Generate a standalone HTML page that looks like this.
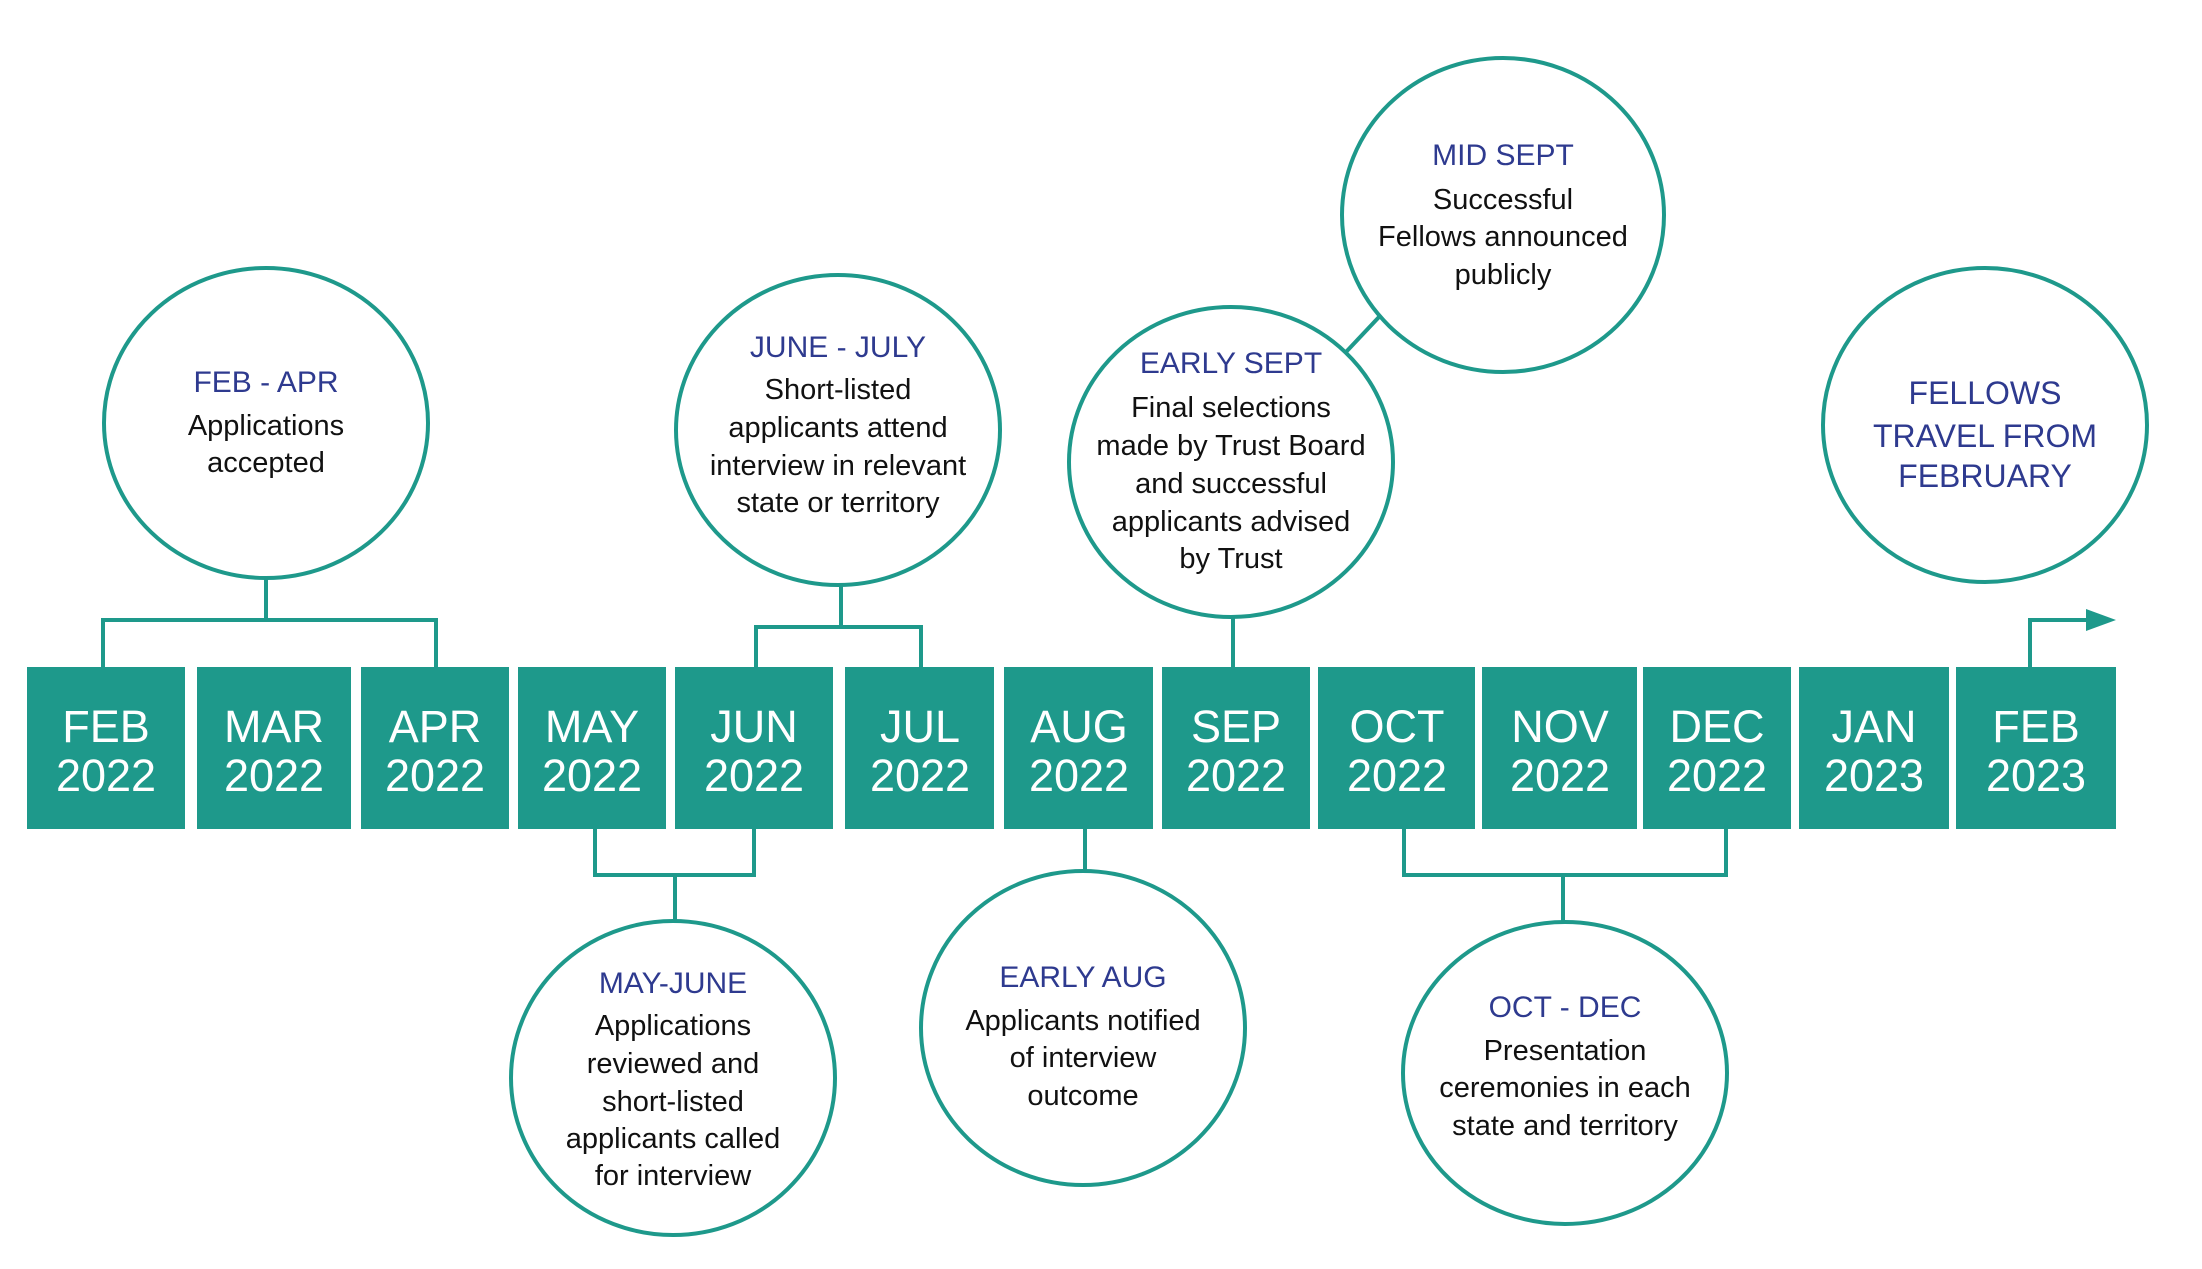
<!DOCTYPE html>
<html><head><meta charset="utf-8"><style>
html,body{margin:0;padding:0;background:#fff;}
svg{display:block;}
.m{font-family:"Liberation Sans",sans-serif;font-size:45px;fill:#fff;text-anchor:middle;}
.h{font-family:"Liberation Sans",sans-serif;font-size:30px;fill:#2e3a8f;text-anchor:middle;}
.b{font-family:"Liberation Sans",sans-serif;font-size:29px;fill:#111;text-anchor:middle;}
.f{font-family:"Liberation Sans",sans-serif;font-size:32px;fill:#2e3a8f;text-anchor:middle;}
</style></head><body>
<svg width="2202" height="1269" viewBox="0 0 2202 1269" xmlns="http://www.w3.org/2000/svg">
<g fill="#1e998b">
<rect x="27" y="667" width="158" height="162"/>
<rect x="197" y="667" width="154" height="162"/>
<rect x="361" y="667" width="148" height="162"/>
<rect x="518" y="667" width="148" height="162"/>
<rect x="675" y="667" width="158" height="162"/>
<rect x="845" y="667" width="149" height="162"/>
<rect x="1004" y="667" width="149" height="162"/>
<rect x="1162" y="667" width="148" height="162"/>
<rect x="1318" y="667" width="157" height="162"/>
<rect x="1482" y="667" width="155" height="162"/>
<rect x="1643" y="667" width="148" height="162"/>
<rect x="1799" y="667" width="150" height="162"/>
<rect x="1956" y="667" width="160" height="162"/>
</g>
<g class="m">
<text x="106" y="742">FEB</text><text x="106" y="791">2022</text>
<text x="274" y="742">MAR</text><text x="274" y="791">2022</text>
<text x="435" y="742">APR</text><text x="435" y="791">2022</text>
<text x="592" y="742">MAY</text><text x="592" y="791">2022</text>
<text x="754" y="742">JUN</text><text x="754" y="791">2022</text>
<text x="920" y="742">JUL</text><text x="920" y="791">2022</text>
<text x="1079" y="742">AUG</text><text x="1079" y="791">2022</text>
<text x="1236" y="742">SEP</text><text x="1236" y="791">2022</text>
<text x="1397" y="742">OCT</text><text x="1397" y="791">2022</text>
<text x="1560" y="742">NOV</text><text x="1560" y="791">2022</text>
<text x="1717" y="742">DEC</text><text x="1717" y="791">2022</text>
<text x="1874" y="742">JAN</text><text x="1874" y="791">2023</text>
<text x="2036" y="742">FEB</text><text x="2036" y="791">2023</text>
</g>
<g fill="none" stroke="#1e998b" stroke-width="4">
<polyline points="103,667 103,620 436,620 436,667"/>
<line x1="266" y1="620" x2="266" y2="578"/>
<polyline points="756,667 756,627 921,627 921,667"/>
<line x1="841" y1="627" x2="841" y2="585"/>
<polyline points="595,829 595,875 754,875 754,829"/>
<line x1="675" y1="875" x2="675" y2="921"/>
<line x1="1085" y1="829" x2="1085" y2="871"/>
<line x1="1233" y1="667" x2="1233" y2="617"/>
<polyline points="1404,829 1404,875 1726,875 1726,829"/>
<line x1="1563" y1="875" x2="1563" y2="923"/>
<line x1="1379" y1="317" x2="1346" y2="352"/>
<polyline points="2030,667 2030,620 2090,620"/>
<ellipse cx="266" cy="423" rx="162" ry="155"/>
<ellipse cx="838" cy="430" rx="162" ry="155"/>
<ellipse cx="1503" cy="215" rx="161" ry="157"/>
<ellipse cx="1231" cy="462" rx="162" ry="155"/>
<ellipse cx="1985" cy="425" rx="162" ry="157"/>
<ellipse cx="673" cy="1078" rx="162" ry="157"/>
<ellipse cx="1083" cy="1028" rx="162" ry="157"/>
<ellipse cx="1565" cy="1073" rx="162" ry="151"/>
</g>
<polygon points="2086,609 2116,620 2086,631" fill="#1e998b"/>
<text class="h" x="266" y="392">FEB - APR</text>
<text class="b" x="266" y="435">Applications</text>
<text class="b" x="266" y="472">accepted</text>

<text class="h" x="838" y="357">JUNE - JULY</text>
<text class="b" x="838" y="399">Short-listed</text>
<text class="b" x="838" y="437">applicants attend</text>
<text class="b" x="838" y="475">interview in relevant</text>
<text class="b" x="838" y="512">state or territory</text>

<text class="h" x="1503" y="165">MID SEPT</text>
<text class="b" x="1503" y="209">Successful</text>
<text class="b" x="1503" y="246">Fellows announced</text>
<text class="b" x="1503" y="284">publicly</text>

<text class="h" x="1231" y="373">EARLY SEPT</text>
<text class="b" x="1231" y="417">Final selections</text>
<text class="b" x="1231" y="455">made by Trust Board</text>
<text class="b" x="1231" y="493">and successful</text>
<text class="b" x="1231" y="531">applicants advised</text>
<text class="b" x="1231" y="568">by Trust</text>

<text class="f" x="1985" y="404">FELLOWS</text>
<text class="f" x="1985" y="447">TRAVEL FROM</text>
<text class="f" x="1985" y="487">FEBRUARY</text>

<text class="h" x="673" y="993">MAY-JUNE</text>
<text class="b" x="673" y="1035">Applications</text>
<text class="b" x="673" y="1073">reviewed and</text>
<text class="b" x="673" y="1111">short-listed</text>
<text class="b" x="673" y="1148">applicants called</text>
<text class="b" x="673" y="1185">for interview</text>

<text class="h" x="1083" y="987">EARLY AUG</text>
<text class="b" x="1083" y="1030">Applicants notified</text>
<text class="b" x="1083" y="1067">of interview</text>
<text class="b" x="1083" y="1105">outcome</text>

<text class="h" x="1565" y="1017">OCT - DEC</text>
<text class="b" x="1565" y="1060">Presentation</text>
<text class="b" x="1565" y="1097">ceremonies in each</text>
<text class="b" x="1565" y="1135">state and territory</text>
</svg>
</body></html>
